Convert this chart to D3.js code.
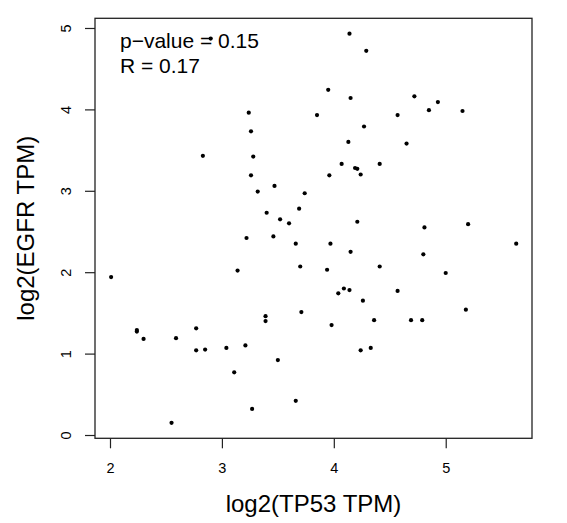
<!DOCTYPE html>
<html>
<head>
<meta charset="utf-8">
<script src="https://cdn.jsdelivr.net/npm/d3@7"></script>
<style>
  html, body { margin: 0; padding: 0; background: #fff; }
  svg { display: block; font-family: "Liberation Sans", Arial, sans-serif; }
</style>
</head>
<body>
<svg id="chart" width="567" height="523"></svg>
<script>
// log2(TP53 TPM) values
const tp53 = [
  2.90, 2.83, 3.24, 3.26, 3.28, 3.26, 3.32, 3.47, 3.40, 3.52,
  3.60, 3.69, 3.74, 3.85, 3.95, 3.96, 4.14, 4.29, 4.15, 4.72,
  4.93, 4.85, 5.15, 4.57, 4.27, 4.13, 4.65, 4.07, 4.19, 4.21,
  4.24, 4.41, 4.21, 4.81, 5.20, 2.01, 2.24, 2.24, 2.30, 2.59,
  2.77, 2.77, 2.85, 2.55, 3.04, 3.11, 3.21, 3.14, 3.22, 3.46,
  3.66, 3.70, 3.94, 3.97, 3.39, 3.39, 3.71, 3.98, 3.50, 3.27,
  3.66, 5.63, 4.15, 4.80, 4.41, 5.00, 4.04, 4.09, 4.14, 4.26,
  4.57, 4.36, 4.69, 4.79, 5.18, 4.24, 4.33
];
// log2(EGFR TPM) values
const egfr = [
  4.87, 3.43, 3.96, 3.73, 3.42, 3.19, 2.99, 3.06, 2.73, 2.65,
  2.60, 2.78, 2.97, 3.93, 4.24, 3.19, 4.93, 4.72, 4.14, 4.16,
  4.09, 3.99, 3.98, 3.93, 3.79, 3.60, 3.58, 3.33, 3.28, 3.27,
  3.20, 3.33, 2.62, 2.55, 2.59, 1.94, 1.29, 1.27, 1.18, 1.19,
  1.31, 1.04, 1.05, 0.15, 1.07, 0.77, 1.10, 2.02, 2.42, 2.44,
  2.35, 2.07, 2.03, 2.35, 1.46, 1.40, 1.51, 1.35, 0.92, 0.32,
  0.42, 2.35, 2.25, 2.22, 2.07, 1.99, 1.74, 1.80, 1.78, 1.65,
  1.77, 1.41, 1.41, 1.41, 1.54, 1.04, 1.07
];
const xTicks = [2, 3, 4, 5];
const yTicks = [0, 1, 2, 3, 4, 5];
const statLines = ["p\u2212value = 0.15", "R = 0.17"];
const xLabel = "log2(TP53 TPM)";
const yLabel = "log2(EGFR TPM)";

const svg = d3.select("#chart");
const L = 95, R = 532, T = 18.3, B = 438.3;

const x = d3.scaleLinear().domain([1.866, 5.771]).range([L, R]);
const y = d3.scaleLinear().domain([-0.0405, 5.119]).range([B, T]);

// box
svg.append("rect")
  .attr("x", L).attr("y", T)
  .attr("width", R - L).attr("height", B - T)
  .attr("fill", "none").attr("stroke", "#222").attr("stroke-width", 1.3);

// x axis
const xAxis = svg.append("g")
  .attr("transform", `translate(0,${B})`)
  .call(d3.axisBottom(x).tickValues(xTicks).tickSize(10).tickPadding(14).tickFormat(d3.format("d")));
xAxis.select(".domain").remove();
xAxis.attr("font-size", null).attr("font-family", null);
xAxis.selectAll("line").attr("stroke", "#222").attr("stroke-width", 1.2);
xAxis.selectAll("text").attr("font-size", 14.5).attr("fill", "#000")
  .style("font-size", "14.5px");

// y axis
const yAxis = svg.append("g")
  .attr("transform", `translate(${L},0)`)
  .call(d3.axisLeft(y).tickValues(yTicks).tickSize(10).tickFormat(d3.format("d")));
yAxis.select(".domain").remove();
yAxis.attr("font-size", null).attr("font-family", null);
yAxis.selectAll("line").attr("stroke", "#222").attr("stroke-width", 1.2);
yAxis.selectAll("text").remove();
yAxis.selectAll(".tick").append("text")
  .attr("transform", "translate(-24,0) rotate(-90)")
  .attr("text-anchor", "middle")
  .style("font-size", "14.5px").attr("fill", "#000")
  .text(d => d);

// points
const pts = tp53.map((v, i) => [v, egfr[i]]);
svg.append("g").selectAll("circle").data(pts).join("circle")
  .attr("cx", d => x(d[0])).attr("cy", d => y(d[1]))
  .attr("r", 2.1).attr("fill", "#000");

// stats text
svg.append("g").selectAll("text").data(statLines).join("text")
  .attr("x", 120).attr("y", (d, i) => 47.7 + i * 25)
  .attr("font-size", 21).attr("fill", "#000")
  .text(d => d);

// axis labels
svg.append("text")
  .attr("x", (L + R) / 2).attr("y", 511.5)
  .attr("text-anchor", "middle").attr("font-size", 24).attr("fill", "#000")
  .text(xLabel);
svg.append("text")
  .attr("transform", `translate(34,${(T + B) / 2}) rotate(-90)`)
  .attr("text-anchor", "middle").attr("font-size", 24).attr("fill", "#000")
  .text(yLabel);
</script>
</body>
</html>
